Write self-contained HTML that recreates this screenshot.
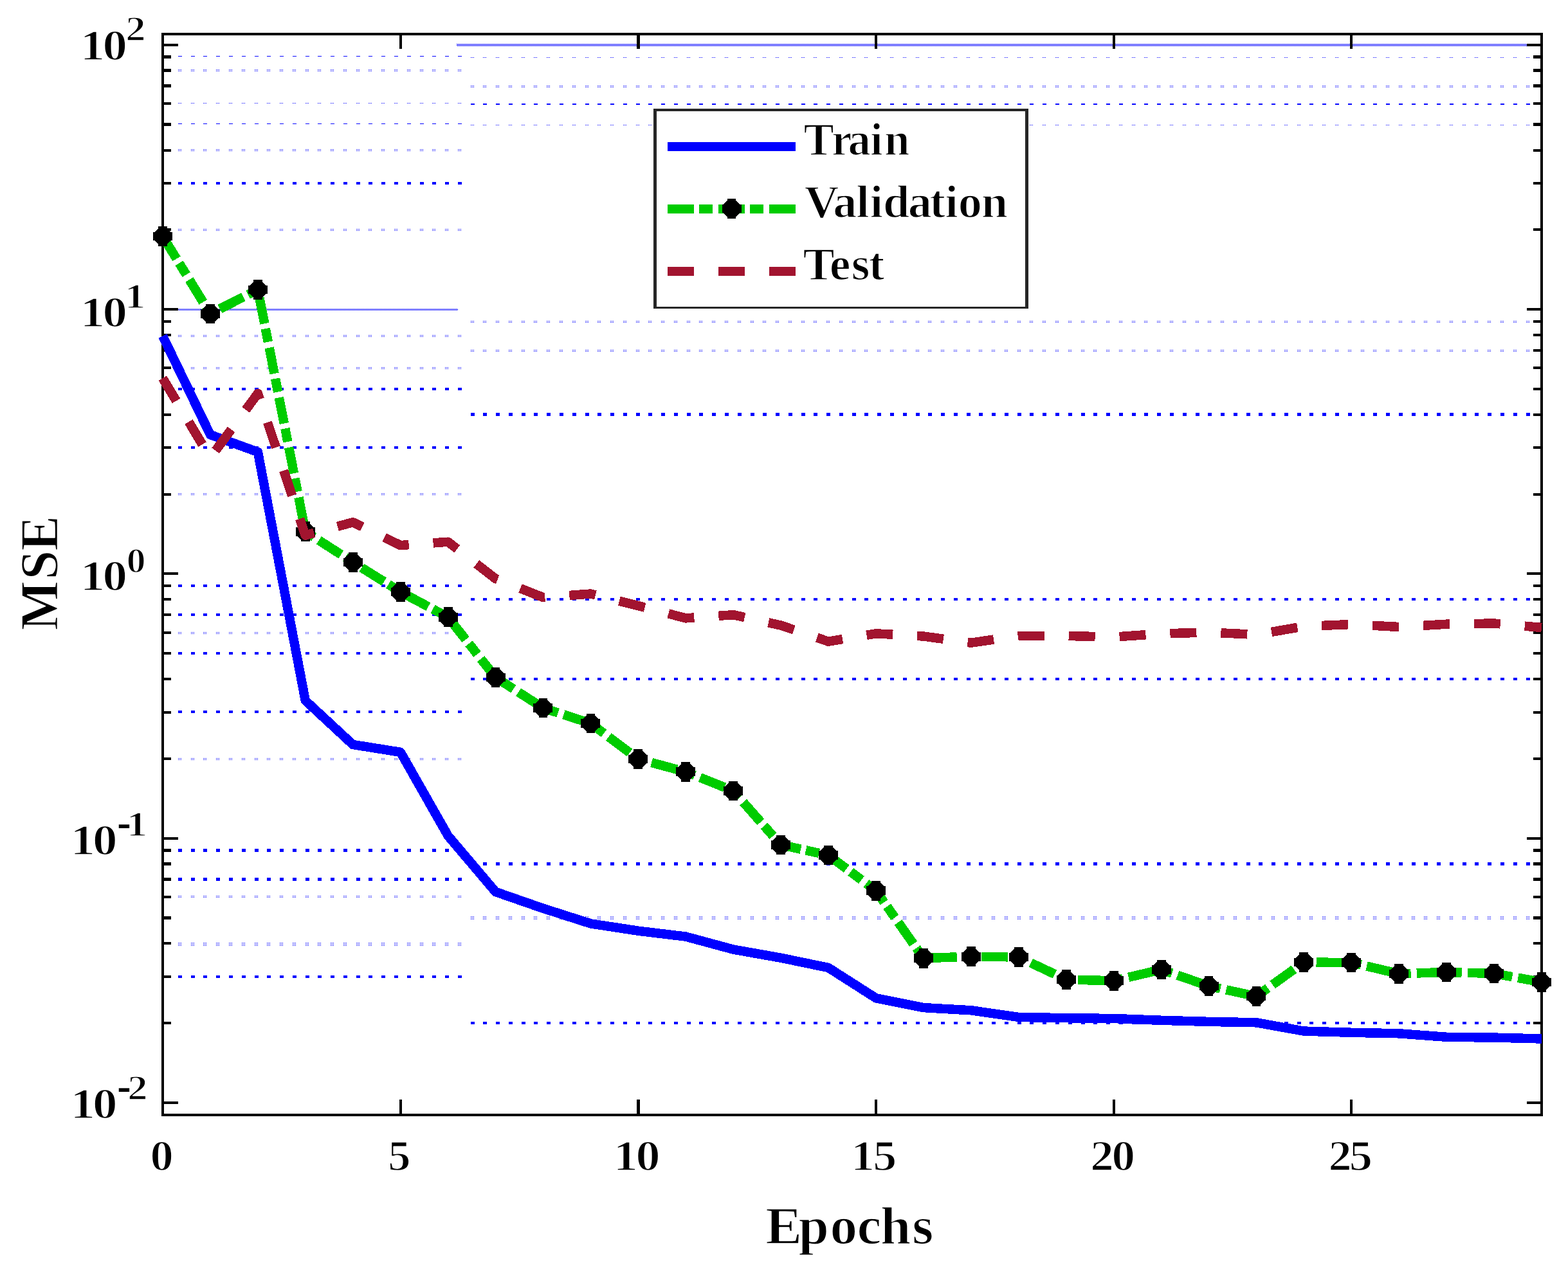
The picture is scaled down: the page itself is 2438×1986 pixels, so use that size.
<!DOCTYPE html>
<html lang="en"><head><meta charset="utf-8"><title>MSE vs Epochs</title>
<style>html,body{margin:0;padding:0;background:#fff;overflow:hidden}svg{display:block}text{font-family:"Liberation Serif","DejaVu Serif",serif;font-weight:bold;fill:#000}</style></head><body>
<svg width="2438" height="1986" viewBox="0 0 2438 1986">
<defs><pattern id="hx" x="0" y="0" width="2" height="2" patternUnits="userSpaceOnUse"><rect x="0" y="0" width="1" height="1" fill="#0000ff"/><rect x="1" y="1" width="1" height="1" fill="#0000ff"/></pattern></defs>
<rect width="2438" height="1986" fill="#fff"/>
<g shape-rendering="crispEdges" stroke="#0000ff" fill="none">
<line x1="276.90" y1="87.50" x2="718.04" y2="87.50" stroke-width="1" stroke-dasharray="6 13.77"/>
<line x1="276.90" y1="108.50" x2="718.04" y2="108.50" stroke-width="1" stroke-dasharray="1 1 1 1 1 14.77"/>
<line x1="276.90" y1="110.50" x2="718.04" y2="110.50" stroke-width="1" stroke-dasharray="1 1 1 1 1 14.77"/>
<line x1="276.90" y1="160.50" x2="718.04" y2="160.50" stroke-width="1" stroke-dasharray="1 1 1 1 1 14.77"/>
<line x1="276.90" y1="192.50" x2="718.04" y2="192.50" stroke-width="1" stroke-dasharray="6 13.77"/>
<line x1="276.90" y1="232.50" x2="718.04" y2="232.50" stroke-width="1" stroke-dasharray="1 1 1 1 1 14.77"/>
<line x1="276.90" y1="234.50" x2="718.04" y2="234.50" stroke-width="1" stroke-dasharray="1 1 1 1 1 14.77"/>
<line x1="276.90" y1="285.00" x2="718.04" y2="285.00" stroke-width="4" stroke-dasharray="6 13.77"/>
<line x1="276.90" y1="356.50" x2="718.04" y2="356.50" stroke-width="1" stroke-dasharray="1 1 1 1 1 14.77"/>
<line x1="276.90" y1="358.50" x2="718.04" y2="358.50" stroke-width="1" stroke-dasharray="1 1 1 1 1 14.77"/>
<line x1="276.90" y1="521.50" x2="718.04" y2="521.50" stroke-width="1" stroke-dasharray="1 1 1 1 1 14.77"/>
<line x1="276.90" y1="523.50" x2="718.04" y2="523.50" stroke-width="1" stroke-dasharray="1 1 1 1 1 14.77"/>
<line x1="276.90" y1="571.50" x2="718.04" y2="571.50" stroke-width="1" stroke-dasharray="1 1 1 1 1 14.77"/>
<line x1="276.90" y1="573.50" x2="718.04" y2="573.50" stroke-width="1" stroke-dasharray="1 1 1 1 1 14.77"/>
<line x1="276.90" y1="605.00" x2="718.04" y2="605.00" stroke-width="4" stroke-dasharray="6 13.77"/>
<line x1="276.90" y1="696.00" x2="718.04" y2="696.00" stroke-width="4" stroke-dasharray="6 13.77"/>
<line x1="276.90" y1="767.50" x2="718.04" y2="767.50" stroke-width="1" stroke-dasharray="1 1 1 1 1 14.77"/>
<line x1="276.90" y1="769.50" x2="718.04" y2="769.50" stroke-width="1" stroke-dasharray="1 1 1 1 1 14.77"/>
<line x1="276.90" y1="911.00" x2="718.04" y2="911.00" stroke-width="4" stroke-dasharray="6 13.77"/>
<line x1="276.90" y1="956.00" x2="718.04" y2="956.00" stroke-width="4" stroke-dasharray="6 13.77"/>
<line x1="276.90" y1="983.50" x2="718.04" y2="983.50" stroke-width="1" stroke-dasharray="1 1 1 1 1 14.77"/>
<line x1="276.90" y1="985.50" x2="718.04" y2="985.50" stroke-width="1" stroke-dasharray="1 1 1 1 1 14.77"/>
<line x1="276.90" y1="1016.00" x2="718.04" y2="1016.00" stroke-width="4" stroke-dasharray="6 13.77"/>
<line x1="276.90" y1="1107.00" x2="718.04" y2="1107.00" stroke-width="4" stroke-dasharray="6 13.77"/>
<line x1="276.90" y1="1179.50" x2="718.04" y2="1179.50" stroke-width="1" stroke-dasharray="1 1 1 1 1 14.77"/>
<line x1="276.90" y1="1181.50" x2="718.04" y2="1181.50" stroke-width="1" stroke-dasharray="1 1 1 1 1 14.77"/>
<line x1="276.90" y1="1322.50" x2="718.04" y2="1322.50" stroke-width="5" stroke-dasharray="6 13.77"/>
<line x1="276.90" y1="1367.50" x2="718.04" y2="1367.50" stroke-width="5" stroke-dasharray="6 13.77"/>
<line x1="276.90" y1="1393.50" x2="718.04" y2="1393.50" stroke-width="1" stroke-dasharray="1 1 1 1 1 14.77"/>
<line x1="276.90" y1="1395.50" x2="718.04" y2="1395.50" stroke-width="1" stroke-dasharray="1 1 1 1 1 14.77"/>
<line x1="276.90" y1="1466.50" x2="718.04" y2="1466.50" stroke-width="1" stroke-dasharray="1 1 1 1 1 14.77"/>
<line x1="276.90" y1="1468.50" x2="718.04" y2="1468.50" stroke-width="1" stroke-dasharray="1 1 1 1 1 14.77"/>
<line x1="276.90" y1="1470.50" x2="718.04" y2="1470.50" stroke-width="1" stroke-dasharray="1 1 1 1 1 14.77"/>
<line x1="276.90" y1="1519.00" x2="718.04" y2="1519.00" stroke-width="4" stroke-dasharray="6 13.77"/>
<line x1="731.61" y1="89.50" x2="2378.72" y2="89.50" stroke-width="1" stroke-dasharray="1 1 1 1 1 14.77"/>
<line x1="731.61" y1="133.50" x2="2378.72" y2="133.50" stroke-width="1" stroke-dasharray="1 1 1 1 1 14.77"/>
<line x1="731.61" y1="135.50" x2="2378.72" y2="135.50" stroke-width="1" stroke-dasharray="1 1 1 1 1 14.77"/>
<line x1="731.61" y1="162.00" x2="2378.72" y2="162.00" stroke-width="2" stroke-dasharray="6 13.77"/>
<line x1="731.61" y1="194.50" x2="2378.72" y2="194.50" stroke-width="1" stroke-dasharray="1 1 1 1 1 14.77"/>
<line x1="731.61" y1="499.50" x2="2378.72" y2="499.50" stroke-width="1" stroke-dasharray="1 1 1 1 1 14.77"/>
<line x1="731.61" y1="501.50" x2="2378.72" y2="501.50" stroke-width="1" stroke-dasharray="1 1 1 1 1 14.77"/>
<line x1="731.61" y1="544.50" x2="2378.72" y2="544.50" stroke-width="1" stroke-dasharray="1 1 1 1 1 14.77"/>
<line x1="731.61" y1="546.50" x2="2378.72" y2="546.50" stroke-width="1" stroke-dasharray="1 1 1 1 1 14.77"/>
<line x1="731.61" y1="644.50" x2="2378.72" y2="644.50" stroke-width="5" stroke-dasharray="6 13.77"/>
<line x1="731.61" y1="932.00" x2="2378.72" y2="932.00" stroke-width="4" stroke-dasharray="6 13.77"/>
<line x1="731.61" y1="1056.00" x2="2378.72" y2="1056.00" stroke-width="4" stroke-dasharray="6 13.77"/>
<line x1="731.61" y1="1343.50" x2="2378.72" y2="1343.50" stroke-width="5" stroke-dasharray="6 13.77"/>
<line x1="731.61" y1="1425.50" x2="2378.72" y2="1425.50" stroke-width="1" stroke-dasharray="1 1 1 1 1 14.77"/>
<line x1="731.61" y1="1427.50" x2="2378.72" y2="1427.50" stroke-width="1" stroke-dasharray="1 1 1 1 1 14.77"/>
<line x1="731.61" y1="1429.50" x2="2378.72" y2="1429.50" stroke-width="1" stroke-dasharray="1 1 1 1 1 14.77"/>
<line x1="731.61" y1="1591.00" x2="2378.72" y2="1591.00" stroke-width="4" stroke-dasharray="6 13.77"/>
</g>
<rect x="277" y="480" width="435" height="3" fill="url(#hx)"/>
<rect x="710" y="68" width="1664" height="4" fill="url(#hx)"/>
<g shape-rendering="crispEdges" fill="#000">
<rect x="251" y="51" width="2148" height="4"/>
<rect x="251" y="1732" width="2148" height="4"/>
<rect x="251" y="51" width="4" height="1685"/>
<rect x="2395" y="51" width="4" height="1685"/>
<rect x="255" y="68" width="22" height="4"/>
<rect x="2374" y="68" width="21" height="4"/>
<rect x="255" y="86" width="11" height="5"/>
<rect x="2384" y="86" width="11" height="5"/>
<rect x="255" y="107" width="11" height="5"/>
<rect x="2384" y="107" width="11" height="5"/>
<rect x="255" y="131" width="11" height="5"/>
<rect x="2384" y="131" width="11" height="5"/>
<rect x="255" y="159" width="11" height="4"/>
<rect x="2384" y="159" width="11" height="4"/>
<rect x="255" y="191" width="11" height="5"/>
<rect x="2384" y="191" width="11" height="5"/>
<rect x="255" y="232" width="11" height="4"/>
<rect x="2384" y="232" width="11" height="4"/>
<rect x="255" y="283" width="11" height="4"/>
<rect x="2384" y="283" width="11" height="4"/>
<rect x="255" y="355" width="11" height="4"/>
<rect x="2384" y="355" width="11" height="4"/>
<rect x="255" y="479" width="22" height="4"/>
<rect x="2374" y="479" width="21" height="4"/>
<rect x="255" y="498" width="11" height="4"/>
<rect x="2384" y="498" width="11" height="4"/>
<rect x="255" y="519" width="11" height="4"/>
<rect x="2384" y="519" width="11" height="4"/>
<rect x="255" y="543" width="11" height="4"/>
<rect x="2384" y="543" width="11" height="4"/>
<rect x="255" y="570" width="11" height="4"/>
<rect x="2384" y="570" width="11" height="4"/>
<rect x="255" y="603" width="11" height="4"/>
<rect x="2384" y="603" width="11" height="4"/>
<rect x="255" y="643" width="11" height="4"/>
<rect x="2384" y="643" width="11" height="4"/>
<rect x="255" y="694" width="11" height="4"/>
<rect x="2384" y="694" width="11" height="4"/>
<rect x="255" y="767" width="11" height="4"/>
<rect x="2384" y="767" width="11" height="4"/>
<rect x="255" y="890" width="22" height="4"/>
<rect x="2374" y="890" width="21" height="4"/>
<rect x="255" y="909" width="11" height="4"/>
<rect x="2384" y="909" width="11" height="4"/>
<rect x="255" y="930" width="11" height="4"/>
<rect x="2384" y="930" width="11" height="4"/>
<rect x="255" y="954" width="11" height="4"/>
<rect x="2384" y="954" width="11" height="4"/>
<rect x="255" y="982" width="11" height="4"/>
<rect x="2384" y="982" width="11" height="4"/>
<rect x="255" y="1014" width="11" height="4"/>
<rect x="2384" y="1014" width="11" height="4"/>
<rect x="255" y="1054" width="11" height="4"/>
<rect x="2384" y="1054" width="11" height="4"/>
<rect x="255" y="1106" width="11" height="4"/>
<rect x="2384" y="1106" width="11" height="4"/>
<rect x="255" y="1178" width="11" height="4"/>
<rect x="2384" y="1178" width="11" height="4"/>
<rect x="255" y="1302" width="22" height="4"/>
<rect x="2374" y="1302" width="21" height="4"/>
<rect x="255" y="1320" width="11" height="5"/>
<rect x="2384" y="1320" width="11" height="5"/>
<rect x="255" y="1341" width="11" height="5"/>
<rect x="2384" y="1341" width="11" height="5"/>
<rect x="255" y="1365" width="11" height="5"/>
<rect x="2384" y="1365" width="11" height="5"/>
<rect x="255" y="1393" width="11" height="4"/>
<rect x="2384" y="1393" width="11" height="4"/>
<rect x="255" y="1425" width="11" height="5"/>
<rect x="2384" y="1425" width="11" height="5"/>
<rect x="255" y="1465" width="11" height="4"/>
<rect x="2384" y="1465" width="11" height="4"/>
<rect x="255" y="1517" width="11" height="4"/>
<rect x="2384" y="1517" width="11" height="4"/>
<rect x="255" y="1589" width="11" height="4"/>
<rect x="2384" y="1589" width="11" height="4"/>
<rect x="255" y="1713" width="22" height="4"/>
<rect x="2374" y="1713" width="21" height="4"/>
<rect x="621" y="55" width="4" height="21"/>
<rect x="621" y="1710" width="4" height="22"/>
<rect x="990" y="55" width="5" height="21"/>
<rect x="990" y="1710" width="5" height="22"/>
<rect x="1360" y="55" width="4" height="21"/>
<rect x="1360" y="1710" width="4" height="22"/>
<rect x="1730" y="55" width="4" height="21"/>
<rect x="1730" y="1710" width="4" height="22"/>
<rect x="2099" y="55" width="4" height="21"/>
<rect x="2099" y="1710" width="4" height="22"/>
</g>
<g fill="none" stroke-width="14.5" stroke-linejoin="round" stroke-linecap="butt" shape-rendering="crispEdges">
<polyline stroke="#0000ff" points="253.0,522.6 326.9,676.0 400.9,703.0 474.8,1089.5 548.7,1158.0 622.7,1169.8 696.6,1299.8 770.5,1387.0 844.4,1412.7 918.4,1436.4 992.3,1447.7 1066.2,1456.6 1140.2,1476.6 1214.1,1489.7 1288.0,1505.0 1362.0,1552.3 1435.9,1567.1 1509.8,1571.3 1583.8,1581.9 1657.7,1583.2 1731.6,1584.0 1805.6,1586.8 1879.5,1588.9 1953.4,1590.3 2027.3,1603.6 2101.3,1605.8 2175.2,1607.3 2249.1,1612.8 2323.1,1613.6 2397.0,1615.5"/>
<polyline stroke="#00cc00" stroke-dasharray="41 8 21 9.1" points="253.0,367.5 326.9,488.0 400.9,450.4 474.8,826.7 548.7,874.4 622.7,920.5 696.6,959.8 770.5,1053.5 844.4,1101.0 918.4,1125.0 992.3,1180.5 1066.2,1200.3 1140.2,1230.0 1214.1,1313.9 1288.0,1330.0 1362.0,1385.3 1435.9,1490.2 1509.8,1487.6 1583.8,1488.5 1657.7,1523.4 1731.6,1525.3 1805.6,1507.9 1879.5,1533.5 1953.4,1549.5 2027.3,1496.5 2101.3,1497.0 2175.2,1514.4 2249.1,1511.9 2323.1,1514.0 2397.0,1527.4"/>
</g>
<g fill="#000" shape-rendering="crispEdges">
<polygon points="246.1,352.1 259.9,352.1 259.9,355.1 265.4,360.6 268.0,360.6 268.0,374.4 265.4,374.4 259.9,379.9 259.9,382.9 246.1,382.9 246.1,379.9 240.6,374.4 238.0,374.4 238.0,360.6 240.6,360.6 246.1,355.1"/>
<polygon points="320.0,472.6 333.8,472.6 333.8,475.6 339.3,481.1 341.9,481.1 341.9,494.9 339.3,494.9 333.8,500.4 333.8,503.4 320.0,503.4 320.0,500.4 314.5,494.9 311.9,494.9 311.9,481.1 314.5,481.1 320.0,475.6"/>
<polygon points="394.0,435.0 407.8,435.0 407.8,438.0 413.3,443.5 415.9,443.5 415.9,457.3 413.3,457.3 407.8,462.8 407.8,465.8 394.0,465.8 394.0,462.8 388.5,457.3 385.9,457.3 385.9,443.5 388.5,443.5 394.0,438.0"/>
<polygon points="467.9,811.3 481.7,811.3 481.7,814.3 487.2,819.8 489.8,819.8 489.8,833.6 487.2,833.6 481.7,839.1 481.7,842.1 467.9,842.1 467.9,839.1 462.4,833.6 459.8,833.6 459.8,819.8 462.4,819.8 467.9,814.3"/>
<polygon points="541.8,859.0 555.6,859.0 555.6,862.0 561.1,867.5 563.7,867.5 563.7,881.3 561.1,881.3 555.6,886.8 555.6,889.8 541.8,889.8 541.8,886.8 536.3,881.3 533.7,881.3 533.7,867.5 536.3,867.5 541.8,862.0"/>
<polygon points="615.8,905.1 629.6,905.1 629.6,908.1 635.1,913.6 637.7,913.6 637.7,927.4 635.1,927.4 629.6,932.9 629.6,935.9 615.8,935.9 615.8,932.9 610.3,927.4 607.7,927.4 607.7,913.6 610.3,913.6 615.8,908.1"/>
<polygon points="689.7,944.4 703.5,944.4 703.5,947.4 709.0,952.9 711.6,952.9 711.6,966.7 709.0,966.7 703.5,972.2 703.5,975.2 689.7,975.2 689.7,972.2 684.2,966.7 681.6,966.7 681.6,952.9 684.2,952.9 689.7,947.4"/>
<polygon points="763.6,1038.1 777.4,1038.1 777.4,1041.1 782.9,1046.6 785.5,1046.6 785.5,1060.4 782.9,1060.4 777.4,1065.9 777.4,1068.9 763.6,1068.9 763.6,1065.9 758.1,1060.4 755.5,1060.4 755.5,1046.6 758.1,1046.6 763.6,1041.1"/>
<polygon points="837.5,1085.6 851.3,1085.6 851.3,1088.6 856.8,1094.1 859.4,1094.1 859.4,1107.9 856.8,1107.9 851.3,1113.4 851.3,1116.4 837.5,1116.4 837.5,1113.4 832.0,1107.9 829.4,1107.9 829.4,1094.1 832.0,1094.1 837.5,1088.6"/>
<polygon points="911.5,1109.6 925.3,1109.6 925.3,1112.6 930.8,1118.1 933.4,1118.1 933.4,1131.9 930.8,1131.9 925.3,1137.4 925.3,1140.4 911.5,1140.4 911.5,1137.4 906.0,1131.9 903.4,1131.9 903.4,1118.1 906.0,1118.1 911.5,1112.6"/>
<polygon points="985.4,1165.1 999.2,1165.1 999.2,1168.1 1004.7,1173.6 1007.3,1173.6 1007.3,1187.4 1004.7,1187.4 999.2,1192.9 999.2,1195.9 985.4,1195.9 985.4,1192.9 979.9,1187.4 977.3,1187.4 977.3,1173.6 979.9,1173.6 985.4,1168.1"/>
<polygon points="1059.3,1184.9 1073.1,1184.9 1073.1,1187.9 1078.6,1193.4 1081.2,1193.4 1081.2,1207.2 1078.6,1207.2 1073.1,1212.7 1073.1,1215.7 1059.3,1215.7 1059.3,1212.7 1053.8,1207.2 1051.2,1207.2 1051.2,1193.4 1053.8,1193.4 1059.3,1187.9"/>
<polygon points="1133.3,1214.6 1147.1,1214.6 1147.1,1217.6 1152.6,1223.1 1155.2,1223.1 1155.2,1236.9 1152.6,1236.9 1147.1,1242.4 1147.1,1245.4 1133.3,1245.4 1133.3,1242.4 1127.8,1236.9 1125.2,1236.9 1125.2,1223.1 1127.8,1223.1 1133.3,1217.6"/>
<polygon points="1207.2,1298.5 1221.0,1298.5 1221.0,1301.5 1226.5,1307.0 1229.1,1307.0 1229.1,1320.8 1226.5,1320.8 1221.0,1326.3 1221.0,1329.3 1207.2,1329.3 1207.2,1326.3 1201.7,1320.8 1199.1,1320.8 1199.1,1307.0 1201.7,1307.0 1207.2,1301.5"/>
<polygon points="1281.1,1314.6 1294.9,1314.6 1294.9,1317.6 1300.4,1323.1 1303.0,1323.1 1303.0,1336.9 1300.4,1336.9 1294.9,1342.4 1294.9,1345.4 1281.1,1345.4 1281.1,1342.4 1275.6,1336.9 1273.0,1336.9 1273.0,1323.1 1275.6,1323.1 1281.1,1317.6"/>
<polygon points="1355.1,1369.9 1368.9,1369.9 1368.9,1372.9 1374.4,1378.4 1377.0,1378.4 1377.0,1392.2 1374.4,1392.2 1368.9,1397.7 1368.9,1400.7 1355.1,1400.7 1355.1,1397.7 1349.6,1392.2 1347.0,1392.2 1347.0,1378.4 1349.6,1378.4 1355.1,1372.9"/>
<polygon points="1429.0,1474.8 1442.8,1474.8 1442.8,1477.8 1448.3,1483.3 1450.9,1483.3 1450.9,1497.1 1448.3,1497.1 1442.8,1502.6 1442.8,1505.6 1429.0,1505.6 1429.0,1502.6 1423.5,1497.1 1420.9,1497.1 1420.9,1483.3 1423.5,1483.3 1429.0,1477.8"/>
<polygon points="1502.9,1472.2 1516.7,1472.2 1516.7,1475.2 1522.2,1480.7 1524.8,1480.7 1524.8,1494.5 1522.2,1494.5 1516.7,1500.0 1516.7,1503.0 1502.9,1503.0 1502.9,1500.0 1497.4,1494.5 1494.8,1494.5 1494.8,1480.7 1497.4,1480.7 1502.9,1475.2"/>
<polygon points="1576.9,1473.1 1590.7,1473.1 1590.7,1476.1 1596.2,1481.6 1598.8,1481.6 1598.8,1495.4 1596.2,1495.4 1590.7,1500.9 1590.7,1503.9 1576.9,1503.9 1576.9,1500.9 1571.4,1495.4 1568.8,1495.4 1568.8,1481.6 1571.4,1481.6 1576.9,1476.1"/>
<polygon points="1650.8,1508.0 1664.6,1508.0 1664.6,1511.0 1670.1,1516.5 1672.7,1516.5 1672.7,1530.3 1670.1,1530.3 1664.6,1535.8 1664.6,1538.8 1650.8,1538.8 1650.8,1535.8 1645.3,1530.3 1642.7,1530.3 1642.7,1516.5 1645.3,1516.5 1650.8,1511.0"/>
<polygon points="1724.7,1509.9 1738.5,1509.9 1738.5,1512.9 1744.0,1518.4 1746.6,1518.4 1746.6,1532.2 1744.0,1532.2 1738.5,1537.7 1738.5,1540.7 1724.7,1540.7 1724.7,1537.7 1719.2,1532.2 1716.6,1532.2 1716.6,1518.4 1719.2,1518.4 1724.7,1512.9"/>
<polygon points="1798.7,1492.5 1812.5,1492.5 1812.5,1495.5 1818.0,1501.0 1820.6,1501.0 1820.6,1514.8 1818.0,1514.8 1812.5,1520.3 1812.5,1523.3 1798.7,1523.3 1798.7,1520.3 1793.2,1514.8 1790.6,1514.8 1790.6,1501.0 1793.2,1501.0 1798.7,1495.5"/>
<polygon points="1872.6,1518.1 1886.4,1518.1 1886.4,1521.1 1891.9,1526.6 1894.5,1526.6 1894.5,1540.4 1891.9,1540.4 1886.4,1545.9 1886.4,1548.9 1872.6,1548.9 1872.6,1545.9 1867.1,1540.4 1864.5,1540.4 1864.5,1526.6 1867.1,1526.6 1872.6,1521.1"/>
<polygon points="1946.5,1534.1 1960.3,1534.1 1960.3,1537.1 1965.8,1542.6 1968.4,1542.6 1968.4,1556.4 1965.8,1556.4 1960.3,1561.9 1960.3,1564.9 1946.5,1564.9 1946.5,1561.9 1941.0,1556.4 1938.4,1556.4 1938.4,1542.6 1941.0,1542.6 1946.5,1537.1"/>
<polygon points="2020.4,1481.1 2034.2,1481.1 2034.2,1484.1 2039.7,1489.6 2042.3,1489.6 2042.3,1503.4 2039.7,1503.4 2034.2,1508.9 2034.2,1511.9 2020.4,1511.9 2020.4,1508.9 2014.9,1503.4 2012.3,1503.4 2012.3,1489.6 2014.9,1489.6 2020.4,1484.1"/>
<polygon points="2094.4,1481.6 2108.2,1481.6 2108.2,1484.6 2113.7,1490.1 2116.3,1490.1 2116.3,1503.9 2113.7,1503.9 2108.2,1509.4 2108.2,1512.4 2094.4,1512.4 2094.4,1509.4 2088.9,1503.9 2086.3,1503.9 2086.3,1490.1 2088.9,1490.1 2094.4,1484.6"/>
<polygon points="2168.3,1499.0 2182.1,1499.0 2182.1,1502.0 2187.6,1507.5 2190.2,1507.5 2190.2,1521.3 2187.6,1521.3 2182.1,1526.8 2182.1,1529.8 2168.3,1529.8 2168.3,1526.8 2162.8,1521.3 2160.2,1521.3 2160.2,1507.5 2162.8,1507.5 2168.3,1502.0"/>
<polygon points="2242.2,1496.5 2256.0,1496.5 2256.0,1499.5 2261.5,1505.0 2264.1,1505.0 2264.1,1518.8 2261.5,1518.8 2256.0,1524.3 2256.0,1527.3 2242.2,1527.3 2242.2,1524.3 2236.7,1518.8 2234.1,1518.8 2234.1,1505.0 2236.7,1505.0 2242.2,1499.5"/>
<polygon points="2316.2,1498.6 2330.0,1498.6 2330.0,1501.6 2335.5,1507.1 2338.1,1507.1 2338.1,1520.9 2335.5,1520.9 2330.0,1526.4 2330.0,1529.4 2316.2,1529.4 2316.2,1526.4 2310.7,1520.9 2308.1,1520.9 2308.1,1507.1 2310.7,1507.1 2316.2,1501.6"/>
<polygon points="2390.1,1512.0 2403.9,1512.0 2403.9,1515.0 2409.4,1520.5 2412.0,1520.5 2412.0,1534.3 2409.4,1534.3 2403.9,1539.8 2403.9,1542.8 2390.1,1542.8 2390.1,1539.8 2384.6,1534.3 2382.0,1534.3 2382.0,1520.5 2384.6,1520.5 2390.1,1515.0"/>
</g>
<polyline fill="none" stroke="#a2142f" stroke-width="14.5" stroke-linejoin="round" stroke-dasharray="41 38" shape-rendering="crispEdges" points="253.0,588.2 326.9,712.0 400.9,612.0 474.8,832.5 548.7,812.2 622.7,848.1 696.6,842.7 770.5,900.0 844.4,929.0 918.4,923.5 992.3,942.1 1066.2,961.4 1140.2,956.2 1214.1,972.6 1288.0,997.7 1362.0,985.3 1435.9,989.5 1509.8,999.7 1583.8,988.9 1657.7,988.9 1731.6,990.7 1805.6,985.5 1879.5,983.4 1953.4,987.0 2027.3,974.1 2101.3,971.0 2175.2,975.0 2249.1,970.7 2323.1,969.5 2397.0,976.0"/>
<g shape-rendering="crispEdges">
<rect x="1016" y="169" width="583" height="311" fill="#262626"/>
<rect x="1021" y="173" width="573" height="304" fill="#fff"/>
<rect x="1038" y="221" width="199" height="14" fill="#0000ff"/>
<line x1="1038" y1="325" x2="1237" y2="325" stroke="#00cc00" stroke-width="14" stroke-dasharray="41 8 21 9"/>
<polygon points="1130.6,309.1 1144.4,309.1 1144.4,312.1 1149.9,317.6 1152.5,317.6 1152.5,331.4 1149.9,331.4 1144.4,336.9 1144.4,339.9 1130.6,339.9 1130.6,336.9 1125.1,331.4 1122.5,331.4 1122.5,317.6 1125.1,317.6 1130.6,312.1" fill="#000"/>
<line x1="1038" y1="421.5" x2="1237" y2="421.5" stroke="#a2142f" stroke-width="14" stroke-dasharray="41 38"/>
</g>
<g stroke="#fff" stroke-width="1.6" stroke-linejoin="round">
<text font-size="100" x="322.04" y="0" vector-effect="non-scaling-stroke" transform="matrix(0.7247 0 0 0.6780 0 1819.70)">0</text>
<text font-size="100" x="855.32" y="0" vector-effect="non-scaling-stroke" transform="matrix(0.7053 0 0 0.6780 0 1819.70)">5</text>
<text font-size="100" x="1251.53 1296.99" y="0" vector-effect="non-scaling-stroke" transform="matrix(0.7621 0 0 0.6780 0 1819.70)">10</text>
<text font-size="100" x="1786.64 1833.06" y="0" vector-effect="non-scaling-stroke" transform="matrix(0.7405 0 0 0.6780 0 1819.70)">15</text>
<text font-size="100" x="2323.03 2368.45" y="0" vector-effect="non-scaling-stroke" transform="matrix(0.7298 0 0 0.6780 0 1819.70)">20</text>
<text font-size="100" x="2854.42 2899.21" y="0" vector-effect="non-scaling-stroke" transform="matrix(0.7236 0 0 0.6780 0 1819.70)">25</text>
<text font-size="100" x="162.38 207.41" y="0" vector-effect="non-scaling-stroke" transform="matrix(0.7685 0 0 0.6780 0 92.80)">10</text>
<text font-size="100" x="311.63" y="0" vector-effect="non-scaling-stroke" transform="matrix(0.6265 0 0 0.5500 0 62.80)">2</text>
<text font-size="100" x="162.38 207.41" y="0" vector-effect="non-scaling-stroke" transform="matrix(0.7685 0 0 0.6780 0 507.80)">10</text>
<text font-size="100" x="295.30" y="0" vector-effect="non-scaling-stroke" transform="matrix(0.6558 0 0 0.5500 0 479.00)">1</text>
<text font-size="100" x="162.01 207.29" y="0" vector-effect="non-scaling-stroke" transform="matrix(0.7697 0 0 0.6780 0 917.50)">10</text>
<text font-size="100" x="330.71" y="0" vector-effect="non-scaling-stroke" transform="matrix(0.5953 0 0 0.5500 0 889.50)">0</text>
<text font-size="100" x="142.18 186.94" y="0" vector-effect="non-scaling-stroke" transform="matrix(0.7710 0 0 0.6780 0 1328.90)">10</text>
<text font-size="100" vector-effect="non-scaling-stroke" transform="matrix(0.6885 0 0 0.9059 181.52 1307.34)">-</text>
<text font-size="100" x="300.03" y="0" vector-effect="non-scaling-stroke" transform="matrix(0.6558 0 0 0.5500 0 1300.00)">1</text>
<text font-size="100" x="142.18 186.94" y="0" vector-effect="non-scaling-stroke" transform="matrix(0.7710 0 0 0.6780 0 1738.90)">10</text>
<text font-size="100" vector-effect="non-scaling-stroke" transform="matrix(0.6885 0 0 0.9059 181.52 1717.34)">-</text>
<text font-size="100" x="316.58" y="0" vector-effect="non-scaling-stroke" transform="matrix(0.6265 0 0 0.5500 0 1709.80)">2</text>
<text font-size="100" x="1398.11 1458.33 1515.67 1565.13 1607.90 1665.73" y="0" vector-effect="non-scaling-stroke" transform="matrix(0.8514 0 0 0.8200 0 1934.40)">Epochs</text>
<text font-size="100" x="-1195.13 -1098.69 -1044.17" y="0" vector-effect="non-scaling-stroke" transform="matrix(0 -0.8205 0.8400 0 90.00 0)">MSE</text>
<text font-size="100" x="1762.83 1824.07 1860.27 1908.72 1939.81" y="0" vector-effect="non-scaling-stroke" transform="matrix(0.7088 0 0 0.7100 0 241.00)">Train</text>
<text font-size="100" x="1683.06 1743.04 1791.45 1819.93 1847.72 1899.75 1944.96 1977.24 2004.91 2053.34" y="0" vector-effect="non-scaling-stroke" transform="matrix(0.7431 0 0 0.7100 0 338.00)">Validation</text>
<text font-size="100" x="1692.69 1748.59 1794.64 1831.16" y="0" vector-effect="non-scaling-stroke" transform="matrix(0.7376 0 0 0.7100 0 434.60)">Test</text>
</g>
</svg></body></html>
